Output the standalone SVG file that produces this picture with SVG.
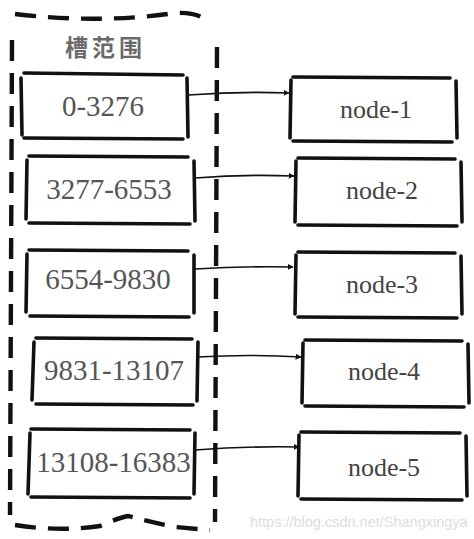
<svg xmlns="http://www.w3.org/2000/svg" width="474" height="539" viewBox="0 0 474 539">
<defs>
<style>
.box{fill:none;stroke:#111;stroke-width:3.6;stroke-linecap:round}
.dash{fill:none;stroke:#111;stroke-width:4.4;stroke-dasharray:21 12;stroke-linecap:butt}
.conn{fill:none;stroke:#111;stroke-width:1.6}
.lbl{font-family:'Liberation Serif',serif;font-size:29px;fill:#555;text-anchor:middle}
.nlbl{font-family:'Liberation Serif',serif;font-size:26px;fill:#444;text-anchor:middle}
.title{font-family:'Noto Sans CJK SC',sans-serif;font-size:23px;font-weight:bold;fill:#6a6a6a;letter-spacing:4px}
.wm{font-family:'Liberation Sans',sans-serif;font-size:14.5px;fill:#ddd}
</style>
<marker id="ah" viewBox="0 0 10 10" refX="9" refY="5" markerWidth="6" markerHeight="6" orient="auto" markerUnits="userSpaceOnUse">
<path d="M0 0 L10 5 L0 10 z" fill="#111"/>
</marker>
</defs>
<rect width="474" height="539" fill="#fff"/>
<g id="container">
<path class="dash" d="M15 14 Q100 24 175 13 Q200 12 207 22"/>
<path class="dash" d="M12 40 L10 515"/>
<path class="dash" d="M217 47 L215 522"/>
<path class="dash" d="M15 525 Q60 532 100 526 Q118 518 128 516 Q150 522 175 527 L210 530"/>
<text class="title" x="65" y="56">槽范围</text>
</g>
<g id="connectors">
<path class="conn" marker-end="url(#ah)" d="M188 95 Q240 91 289 93"/>
<path class="conn" marker-end="url(#ah)" d="M195 178 Q245 174 294 176"/>
<path class="conn" marker-end="url(#ah)" d="M195 269 Q245 266 293 267"/>
<path class="conn" marker-end="url(#ah)" d="M197 357 Q250 354 301 357"/>
<path class="conn" marker-end="url(#ah)" d="M195 450 Q248 446 299 447"/>
</g>
<g id="slot1">
<path class="box" d="M24 73 L183 75 M187 78 L188 137 M183 139 L24 138 M22 135 L21 78"/>
<text class="lbl" x="103" y="116" font-family="Liberation Serif">0-3276</text>
</g>
<g id="slot2">
<path class="box" d="M29 156 L188 157 M194 161 L195 221 M190 224 L29 223 M26 219 L27 160"/>
<text class="lbl" x="109" y="199" font-family="Liberation Serif">3277-6553</text>
</g>
<g id="slot3">
<path class="box" d="M29 250 L188 251 M194 255 L194 313 M189 317 L30 316 M26 312 L27 254"/>
<text class="lbl" x="108" y="289" font-family="Liberation Serif">6554-9830</text>
</g>
<g id="slot4">
<path class="box" d="M36 338 L192 339 M198 342 L197 401 M193 405 L36 404 M32 400 L34 342"/>
<text class="lbl" x="114" y="380" font-family="Liberation Serif">9831-13107</text>
</g>
<g id="slot5">
<path class="box" d="M31 429 L190 430 M195 433 L194 494 M190 498 L31 497 M28 494 L30 433"/>
<text class="lbl" x="113.5" y="472" font-family="Liberation Serif">13108-16383</text>
</g>
<g id="node1">
<path class="box" d="M293 77 L450 78 M456 81 L457 138 M452 142 L293 141 M290 138 L291 80"/>
<text class="nlbl" x="376" y="118" font-family="Liberation Serif">node-1</text>
</g>
<g id="node2">
<path class="box" d="M298 158 L455 159 M461 162 L462 222 M457 226 L298 225 M295 222 L296 161"/>
<text class="nlbl" x="382" y="199" font-family="Liberation Serif">node-2</text>
</g>
<g id="node3">
<path class="box" d="M298 252 L455 253 M461 256 L462 314 M457 318 L298 317 M295 314 L296 255"/>
<text class="nlbl" x="382" y="293" font-family="Liberation Serif">node-3</text>
</g>
<g id="node4">
<path class="box" d="M305 340 L462 341 M468 344 L469 403 M464 407 L305 406 M302 403 L303 343"/>
<text class="nlbl" x="384" y="380" font-family="Liberation Serif">node-4</text>
</g>
<g id="node5">
<path class="box" d="M301 432 L460 433 M466 436 L467 496 M462 500 L301 499 M298 496 L299 435"/>
<text class="nlbl" x="384" y="476" font-family="Liberation Serif">node-5</text>
</g>
<text class="wm" x="250" y="527">https://blog.csdn.net/Shangxingya</text>
</svg>
